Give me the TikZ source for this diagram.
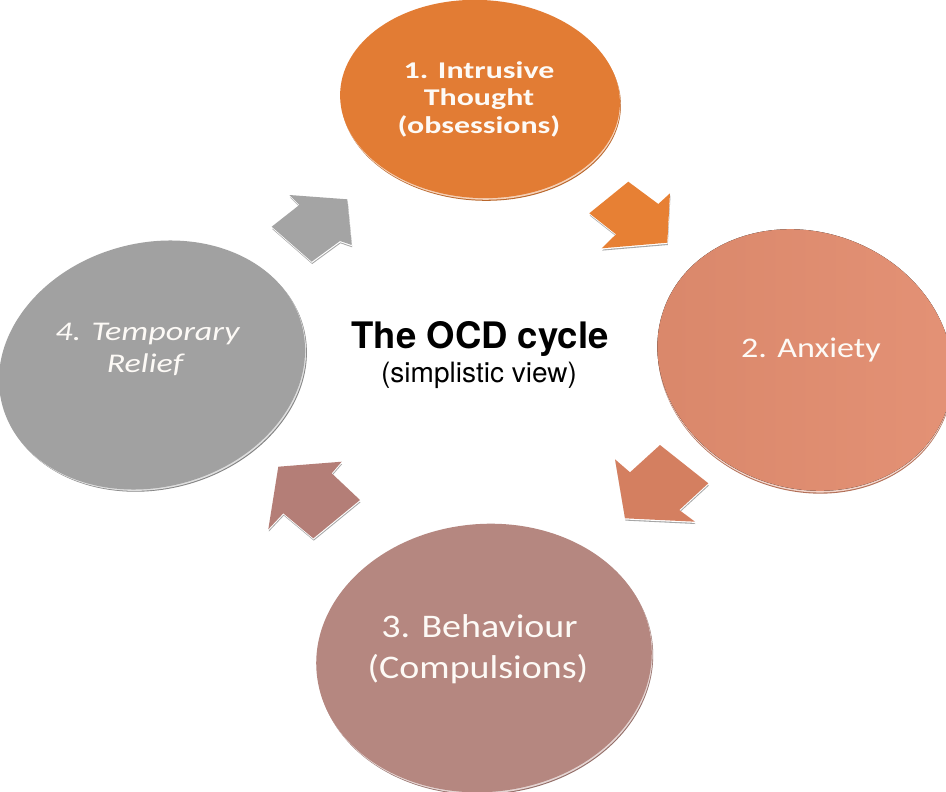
\documentclass[tikz,border=0pt]{standalone}
\usepackage{fontspec}
\setmainfont{TeX Gyre Heros}
\newfontfamily\carlito{Carlito}
\definecolor{cOne}{RGB}{226,124,52}
\definecolor{cTwo}{RGB}{217,135,106}
\definecolor{cTwoL}{RGB}{228,146,118}
\definecolor{cThree}{RGB}{181,135,128}
\definecolor{cFour}{RGB}{161,161,161}
\definecolor{aOne}{RGB}{231,128,52}
\definecolor{aTwo}{RGB}{212,127,96}
\definecolor{aThree}{RGB}{180,126,119}
\definecolor{aFour}{RGB}{164,164,164}
\definecolor{txtW}{RGB}{253,250,246}
\tikzset{
  disclabel/.style={text=txtW, inner sep=0pt, anchor=base},
  titletext/.style={text=black, inner sep=0pt, anchor=base},
  arrowshadow/.style={fill=black!35},
  arrowlight/.style={fill=white},
}
\newcommand\ocdDisc[6]{%
  \begin{scope}[shift={(#1,#2)},rotate=#3]
    \fill[#6!82!black] (1.2pt,-2.6pt) ellipse[x radius=#4pt,y radius=#5pt];
    \fill[#6!35!white] (0.7pt,-1.6pt) ellipse[x radius=#4pt,y radius=#5pt];
    \fill[#6] (0,0) ellipse[x radius=#4pt,y radius=#5pt];
  \end{scope}}
\newcommand\ocdArrow[2]{%
  \fill[arrowshadow] [shift={(0.5,2.3)}] #2;
  \fill[arrowlight] [shift={(0.25,1.2)}] #2;
  \fill[#1] #2;}
\begin{document}
\begin{tikzpicture}[x=1pt,y=-1pt]
\useasboundingbox (0,0) rectangle (946,792);
\clip (0,0) rectangle (946,792);
\fill[white] (0,0) rectangle (946,792);

% discs
\ocdDisc{480}{99}{-3}{140}{99}{cOne}
\begin{scope}[shift={(805,360)},rotate=-20]
  \fill[cTwo!82!black] (1.2pt,-2.6pt) ellipse[x radius=150pt,y radius=128pt];
  \fill[cTwo!35!white] (0.7pt,-1.6pt) ellipse[x radius=150pt,y radius=128pt];
  \fill[left color=cTwo, right color=cTwoL] (0,0) ellipse[x radius=150pt,y radius=128pt];
\end{scope}
\ocdDisc{484}{658}{5}{168}{134}{cThree}
\ocdDisc{152}{365}{15}{155}{122}{cFour}

% block arrows
\ocdArrow{aOne}{(628.3,181.7) -- (658.3,204) -- (670,193.3) -- (667.3,242.7) -- (601.7,248.3) -- (616,234.3) -- (589.3,213.3) -- cycle}
\ocdArrow{aTwo}{(660,445) -- (708.3,483.3) -- (679.3,510) -- (695,521.7) -- (625,518.3) -- (615,459.3) -- (630,472.3) -- cycle}
\ocdArrow{aThree}{(278.3,466.7) -- (341.7,461.7) -- (331.7,473.3) -- (360,500) -- (313.3,538.3) -- (283.3,513.3) -- (268.3,529.3) -- cycle}
\ocdArrow{aFour}{(347.3,199.3) -- (289.3,195) -- (299.3,205) -- (271.7,226.7) -- (311.7,261.7) -- (340,241) -- (351.7,245) -- cycle}

% labels
\node[disclabel] (t1a) at (479,79) {\carlito\bfseries\fontsize{24}{29}\selectfont\scalebox{1.33}[1]{1. Intrusive}};
\node[disclabel] (t1b) at (479,106) {\carlito\bfseries\fontsize{24}{29}\selectfont\scalebox{1.33}[1]{Thought}};
\node[disclabel] (t1c) at (479,133) {\carlito\bfseries\fontsize{24}{29}\selectfont\scalebox{1.33}[1]{(obsessions)}};

\node[disclabel] (t2) at (811,357) {\carlito\fontsize{28.4}{34}\selectfont\scalebox{1.2}[1]{2. Anxiety}};

\node[disclabel] (t3a) at (479.5,637) {\carlito\fontsize{33}{40}\selectfont\scalebox{1.15}[1]{3. Behaviour}};
\node[disclabel] (t3b) at (478,678) {\carlito\fontsize{33}{40}\selectfont\scalebox{1.15}[1]{(Compulsions)}};

\node[disclabel] (t4a) at (147.5,340) {\carlito\itshape\fontsize{27}{32}\selectfont\scalebox{1.26}[1]{4. Temporary}};
\node[disclabel] (t4b) at (145,372) {\carlito\itshape\fontsize{27}{32}\selectfont\scalebox{1.26}[1]{Relief}};

\node[titletext] (title) at (480,348) {\bfseries\fontsize{36.5}{43}\selectfont The OCD cycle};
\node[titletext] (subtitle) at (479,382) {\fontsize{28}{34}\selectfont (simplistic view)};
\end{tikzpicture}
\end{document}
